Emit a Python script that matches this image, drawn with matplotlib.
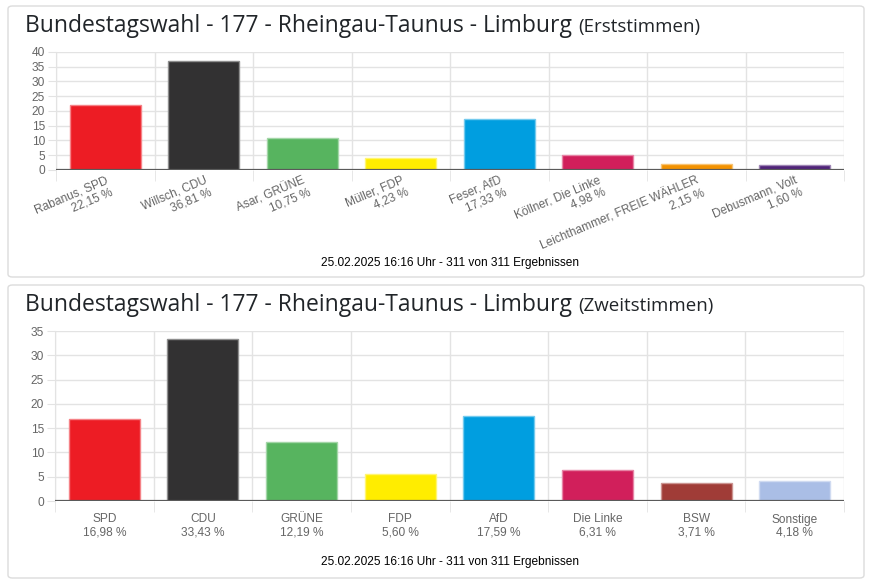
import matplotlib
matplotlib.use('Agg')

import matplotlib.pyplot as plt
from matplotlib.patches import FancyBboxPatch
from matplotlib.colors import to_rgb

# ── Data ─────────────────────────────────────────────────────────────────────
TITLE = "Bundestagswahl - 177 - Rheingau-Taunus - Limburg"
FOOTER = "25.02.2025 16:16 Uhr - 311 von 311 Ergebnissen"

erst_names = ["Rabanus, SPD", "Willsch, CDU", "Asar, GRÜNE", "Müller, FDP",
              "Feser, AfD", "Köllner, Die Linke", "Leichthammer, FREIE WÄHLER",
              "Debusmann, Volt"]
erst_values = [22.15, 36.81, 10.75, 4.23, 17.33, 4.98, 2.15, 1.60]
erst_colors = ["#ed1c24", "#323132", "#57b45f", "#ffed00",
               "#009ee0", "#d11f5b", "#f39200", "#502379"]

zweit_names = ["SPD", "CDU", "GRÜNE", "FDP", "AfD", "Die Linke", "BSW", "Sonstige"]
zweit_values = [16.98, 33.43, 12.19, 5.60, 17.59, 6.31, 3.71, 4.18]
zweit_colors = ["#ed1c24", "#323132", "#57b45f", "#ffed00",
                "#009ee0", "#d11f5b", "#a03c37", "#aabee6"]

# ── Layout helpers (pixel coordinates) ───────────────────────────────────────
W, H = 873, 584
TICK_GREY = "#666666"
GRID = "#e3e3e3"
LABEL_FONT = "Liberation Sans"
TITLE_FONT = "Open Sans"


def rect(l, t, r, b):
    return [l / W, 1 - b / H, (r - l) / W, (b - t) / H]


def lighten(c, f=0.45):
    r, g, b = to_rgb(c)
    return (r + (1 - r) * f, g + (1 - g) * f, b + (1 - b) * f)


def fmt(v):
    return f"{v:.2f}".replace(".", ",") + " %"


def card(fig, l, t, r, b):
    fig.patches.append(FancyBboxPatch(
        (l / W, 1 - b / H), (r - l) / W, (b - t) / H,
        boxstyle="round,pad=0,rounding_size=0.005",
        transform=fig.transFigure, facecolor="white",
        edgecolor="#dcdcdc", linewidth=1.0, zorder=-10))


def draw_chart(fig, box, names, values, colors, ymax, rotate):
    ax = fig.add_axes(rect(*box))
    n = len(values)
    xs = [i + 0.5 for i in range(n)]
    ax.bar(xs, values, width=0.72, color=colors,
           edgecolor=[lighten(c) for c in colors], linewidth=1.0, zorder=2)
    ax.set_xlim(0, n)
    ax.set_ylim(0, ymax)
    ax.set_yticks(range(0, ymax + 1, 5))
    ax.grid(axis="y", color=GRID, linewidth=1.0, zorder=0)
    ax.set_xticks(range(0, n + 1), minor=True)
    ax.grid(axis="x", which="minor", color=GRID, linewidth=1.0, zorder=0)
    ax.tick_params(axis="y", length=6, color=GRID, labelcolor=TICK_GREY,
                   labelsize=8.6, pad=2)
    ax.tick_params(axis="x", which="minor", length=8, color=GRID)
    ax.tick_params(axis="x", which="major", length=0)
    for lab in ax.get_yticklabels():
        lab.set_fontfamily(LABEL_FONT)
    labels = [f"{nm}\n{fmt(v)}" for nm, v in zip(names, values)]
    if rotate:
        # rotated labels: lines right-aligned, anchored at the bar centre
        ax.set_xticks(xs, labels, rotation=23, ha="right",
                      rotation_mode="anchor")
        ax.tick_params(axis="x", which="major", pad=3)
        align = "right"
    else:
        ax.set_xticks(xs, labels)
        ax.tick_params(axis="x", which="major", pad=9)
        align = "center"
    for lab in ax.get_xticklabels():
        lab.set_fontfamily(LABEL_FONT)
        lab.set_fontsize(8.6)
        lab.set_color(TICK_GREY)
        lab.set_multialignment(align)
        lab.set_linespacing(1.1)
    for s in ["top", "right", "bottom"]:
        ax.spines[s].set_visible(False)
    ax.spines["left"].set_color(GRID)
    ax.axhline(0, color="#5a5a5a", linewidth=1.6, zorder=3)
    ax.set_facecolor("none")
    return ax


def title(fig, x, y, sub):
    t = fig.text(x / W, 1 - y / H, TITLE + " ", fontsize=16.5,
                 family=TITLE_FONT, color="#212529", va="baseline")
    fig.canvas.draw()
    bb = t.get_window_extent()
    fig.text(bb.x1 / W, 1 - y / H, sub, fontsize=13.5,
             family=TITLE_FONT, color="#212529", va="baseline")


fig = plt.figure(figsize=(W / 100, H / 100), dpi=100)
fig.patch.set_facecolor("white")

card(fig, 8, 6, 864, 277)
card(fig, 8, 285, 864, 578)

title(fig, 25, 32, "(Erststimmen)")
title(fig, 25, 311, "(Zweitstimmen)")

draw_chart(fig, (56, 52, 844, 170), erst_names, erst_values, erst_colors, 40, True)
draw_chart(fig, (55, 331, 844, 501), zweit_names, zweit_values, zweit_colors, 35, False)

for y in (263, 562):
    fig.text(450 / W, 1 - y / H, FOOTER, fontsize=8.6, family=LABEL_FONT,
             color="black", ha="center", va="center")

fig.savefig("out.png", dpi=100, facecolor="white")
